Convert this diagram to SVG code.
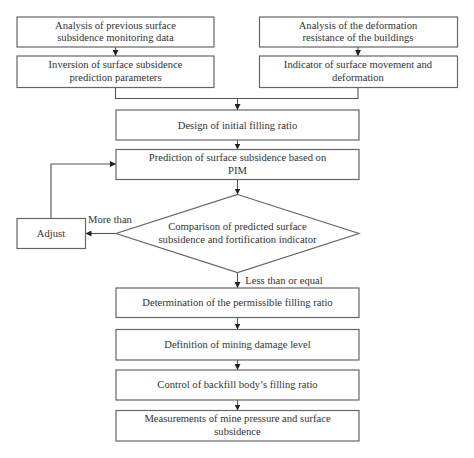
<svg xmlns="http://www.w3.org/2000/svg" width="474" height="458" viewBox="0 0 474 458">
<defs>
<marker id="ah" viewBox="0 0 10 10" refX="10" refY="5" markerWidth="6" markerHeight="6" markerUnits="userSpaceOnUse" orient="auto">
<path d="M0,0 L10,5 L0,10 Z" fill="#222"/>
</marker>
<style>
.box{fill:#fff;stroke:#666;stroke-width:1.2}
.t{font-family:"Liberation Serif","Times New Roman",serif;font-size:10.6px;fill:#333;text-anchor:middle}
.c{fill:none;stroke:#555;stroke-width:1.1}
</style>
</defs>
<rect width="474" height="458" fill="#fff"/>
<g id="connectors">
<path class="c" d="M115.5,47 V56" marker-end="url(#ah)"/>
<path class="c" d="M358,47 V56" marker-end="url(#ah)"/>
<path class="c" d="M115.5,87.5 V98.5 H358 V87.5"/>
<path class="c" d="M237.5,98.5 V110" marker-end="url(#ah)"/>
<path class="c" d="M237.5,140 V149.5" marker-end="url(#ah)"/>
<path class="c" d="M237.5,179.5 V194.5" marker-end="url(#ah)"/>
<path class="c" d="M116,233.5 H85.5" marker-end="url(#ah)"/>
<path class="c" d="M51,218.5 V164 H116" marker-end="url(#ah)"/>
<path class="c" d="M237.5,272.5 V288" marker-end="url(#ah)"/>
<path class="c" d="M237.5,317.5 V329.5" marker-end="url(#ah)"/>
<path class="c" d="M237.5,360 V370" marker-end="url(#ah)"/>
<path class="c" d="M237.5,400 V410.5" marker-end="url(#ah)"/>
<text class="t" x="110" y="222.5">More than</text>
<text class="t" x="284" y="284">Less than or equal</text>
</g>
<g id="n1"><rect class="box" x="17" y="17" width="197" height="30"/>
<text class="t" x="115.5" y="28.5">Analysis of previous surface</text>
<text class="t" x="115.5" y="41">subsidence monitoring data</text></g>
<g id="n2"><rect class="box" x="259.5" y="17" width="198" height="30"/>
<text class="t" x="358" y="28.5">Analysis of the deformation</text>
<text class="t" x="358" y="41">resistance of the buildings</text></g>
<g id="n3"><rect class="box" x="17" y="56" width="197" height="31.5"/>
<text class="t" x="115.5" y="68">Inversion of surface subsidence</text>
<text class="t" x="115.5" y="81">prediction parameters</text></g>
<g id="n4"><rect class="box" x="259.5" y="56" width="198" height="31.5"/>
<text class="t" x="358" y="68">Indicator of surface movement and</text>
<text class="t" x="358" y="81">deformation</text></g>
<g id="n5"><rect class="box" x="116" y="110" width="243" height="30"/>
<text class="t" x="237.5" y="128.5">Design of initial filling ratio</text></g>
<g id="n6"><rect class="box" x="116" y="149.5" width="243" height="30"/>
<text class="t" x="237.5" y="161">Prediction of surface subsidence based on</text>
<text class="t" x="237.5" y="174">PIM</text></g>
<g id="n7"><polygon class="box" points="237.5,194.5 359,233.5 237.5,272.5 116,233.5"/>
<text class="t" x="237.5" y="230">Comparison of predicted surface</text>
<text class="t" x="237.5" y="243">subsidence and fortification indicator</text></g>
<g id="n8"><rect class="box" x="17" y="218.5" width="68.5" height="30"/>
<text class="t" x="51" y="237">Adjust</text></g>
<g id="n9"><rect class="box" x="116" y="288" width="243" height="29.5"/>
<text class="t" x="237.5" y="305.5">Determination of the permissible filling ratio</text></g>
<g id="n10"><rect class="box" x="116" y="329.5" width="243" height="30.5"/>
<text class="t" x="237.5" y="347.5">Definition of mining damage level</text></g>
<g id="n11"><rect class="box" x="116" y="370" width="243" height="30"/>
<text class="t" x="237.5" y="388">Control of backfill body’s filling ratio</text></g>
<g id="n12"><rect class="box" x="116" y="410.5" width="243" height="30.5"/>
<text class="t" x="237.5" y="422">Measurements of mine pressure and surface</text>
<text class="t" x="237.5" y="435">subsidence</text></g>
</svg>
